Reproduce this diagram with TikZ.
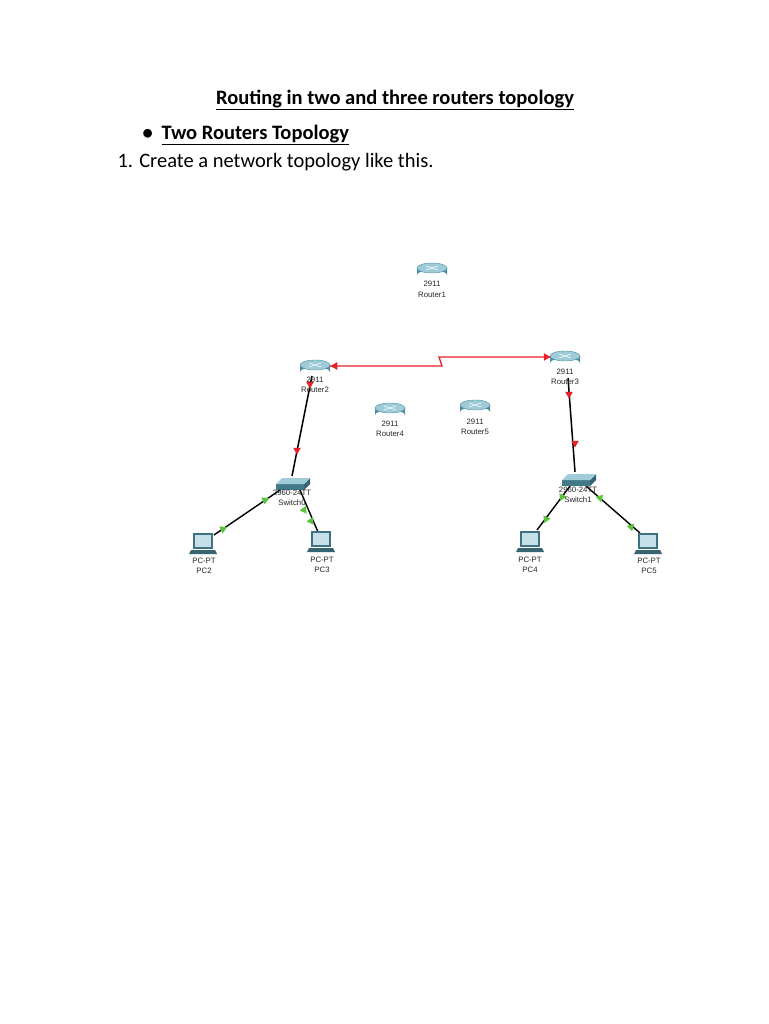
\documentclass[tikz,border=0pt]{standalone}
\usepackage{fontspec}
\setmainfont{Carlito}
\newfontfamily\lab{Liberation Sans}
\usetikzlibrary{shapes.geometric}
\definecolor{rt}{HTML}{4E8FA2}
\definecolor{rtl}{HTML}{9FCCD8}
\definecolor{lk}{HTML}{E8202A}
\definecolor{gr}{HTML}{5CC43C}
\tikzset{
 lbl/.style={font=\lab\fontsize{7.8}{8}\selectfont, inner sep=0pt, text=black!85},
 redtri/.style={fill=lk, draw=none, regular polygon, regular polygon sides=3, minimum size=9pt, inner sep=0pt},
 grtri/.style={fill=gr, draw=none, regular polygon, regular polygon sides=3, minimum size=9pt, inner sep=0pt},
}
\newcommand{\router}[3]{% name, x, y
 \coordinate (#1) at (#2,#3);
 \fill[rt] (#2-15,#3-2) -- (#2-15,#3+5) arc[start angle=180,end angle=360,x radius=15,y radius=5] -- (#2+15,#3-2) -- cycle;
 \fill[rtl,draw=rt,line width=0.4pt] (#2,#3-2) ellipse[x radius=15,y radius=5];
 \draw[white,line width=0.6pt] (#2-6,#3-4)--(#2+6,#3) (#2-6,#3)--(#2+6,#3-4);
}
\newcommand{\switchicon}[3]{%
 \coordinate (#1) at (#2,#3);
 \fill[rt!85!black] (#2-16,#3+2) -- (#2+12,#3+2) -- (#2+12,#3+8) -- (#2-16,#3+8) -- cycle;
 \fill[rt!70!black] (#2+12,#3+2) -- (#2+18,#3-4) -- (#2+18,#3+2) -- (#2+12,#3+8) -- cycle;
 \fill[rtl] (#2-16,#3+2) -- (#2-10,#3-4) -- (#2+18,#3-4) -- (#2+12,#3+2) -- cycle;
}
\newcommand{\pcicon}[3]{%
 \coordinate (#1) at (#2,#3);
 \fill[rt!80!black] (#2-10,#3-10) rectangle (#2+10,#3+6);
 \fill[rtl!60!white] (#2-8,#3-8) rectangle (#2+8,#3+4);
 \fill[rt!70!black] (#2-12,#3+7) -- (#2+12,#3+7) -- (#2+14,#3+11) -- (#2-14,#3+11) -- cycle;
}
\begin{document}
\begin{tikzpicture}[x=1pt,y=-1pt]
\useasboundingbox (0,0) rectangle (768,1024);
\fill[white] (0,0) rectangle (768,1024);
\node[font=\bfseries\fontsize{20.5}{24}\selectfont] (title) at (395,100) {\underline{Routing in two and three routers topology}};
\node[anchor=west,font=\bfseries\fontsize{20.5}{24}\selectfont] (bul) at (139,134) {•};
\node[anchor=west,font=\bfseries\fontsize{20.5}{24}\selectfont] (sub) at (158,135) {\underline{Two Routers Topology}};
\node[anchor=west,font=\fontsize{20.5}{24}\selectfont] (step1) at (114,162) {1. Create a network topology like this.};
% links
\coordinate (r2p) at (330,366); \coordinate (z1) at (442,366); \coordinate (z2) at (439,357); \coordinate (r3p) at (553,357);
\draw[lk,line width=1.4pt] (r2p) -- (z1) -- (z2) -- (r3p);
\coordinate (r2d) at (312,376); \coordinate (s0u) at (292,476);
\coordinate (r3d) at (568,378); \coordinate (s1u) at (575,472);
\draw[black,line width=1.5pt] (r2d) -- (s0u);
\draw[black,line width=1.5pt] (r3d) -- (s1u);
\coordinate (s0a) at (283,488); \coordinate (pc2a) at (214,535);
\coordinate (s0b) at (300,490); \coordinate (pc3a) at (318,532);
\coordinate (s1a) at (570,486); \coordinate (pc4a) at (537,530);
\coordinate (s1b) at (586,486); \coordinate (pc5a) at (640,533);
\foreach \a/\b in {s0a/pc2a,s0b/pc3a,s1a/pc4a,s1b/pc5a} \draw[black,line width=1.4pt] (\a) -- (\b);
% icons
\router{r1}{432}{270}
\router{r2}{315}{367}
\router{r3}{565}{358}
\router{r4}{390}{410}
\router{r5}{475}{407}
\switchicon{sw0}{292}{482}
\switchicon{sw1}{578}{478}
\pcicon{pc2}{203}{543}
\pcicon{pc3}{321}{541}
\pcicon{pc4}{530}{541}
\pcicon{pc5}{648}{543}
% triangles
\node[redtri,rotate=90] (t1) at (335,366) {};
\node[redtri,rotate=-90] (t2) at (546,357) {};
\node[redtri,rotate=180] (t3) at (310,384) {};
\node[redtri,rotate=180] (t4) at (297,450) {};
\node[redtri,rotate=180] (t5) at (569,394) {};
\node[redtri,rotate=180] (t6) at (575,443) {};
\node[grtri,rotate=55] (g1) at (265,500) {};
\node[grtri,rotate=55] (g2) at (223,529) {};
\node[grtri,rotate=-25] (g3) at (304,510) {};
\node[grtri,rotate=-25] (g4) at (311,521) {};
\node[grtri,rotate=35] (g5) at (562,497) {};
\node[grtri,rotate=35] (g6) at (546,519) {};
\node[grtri,rotate=-45] (g7) at (600,498) {};
\node[grtri,rotate=-45] (g8) at (631,527) {};
% labels
\foreach \x/\y/\t in {432/284/2911, 432/295/Router1, 315/380/2911, 315/390/Router2, 565/372/2911, 565/382/Router3, 390/424/2911, 390/434/Router4, 475/422/2911, 475/432/Router5, 292/493/2960-24TT, 292/503/Switch0, 578/490/2960-24TT, 578/500/Switch1, 204/561/PC-PT, 204/571/PC2, 322/560/PC-PT, 322/570/PC3, 530/560/PC-PT, 530/570/PC4, 649/561/PC-PT, 649/571/PC5}
  \node[lbl] at (\x,\y) {\t};
\end{tikzpicture}
\end{document}
